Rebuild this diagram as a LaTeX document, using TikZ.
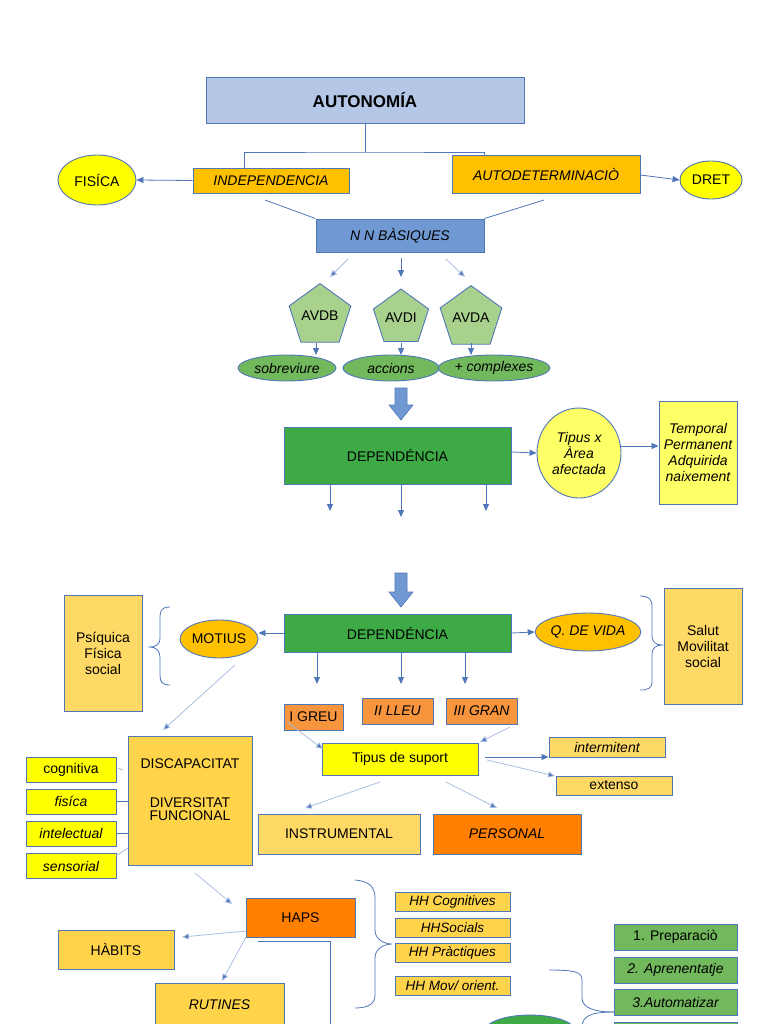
\documentclass[tikz,border=0pt]{standalone}
\usepackage{fontspec}
\setmainfont{Liberation Sans}
\usetikzlibrary{shapes.geometric,arrows.meta}
\definecolor{ln}{HTML}{4F77B8}
\definecolor{lnl}{HTML}{A9BEE0}
\definecolor{gold}{HTML}{FFC000}
\definecolor{lgold}{HTML}{FFD34A}
\definecolor{pgold}{HTML}{FFD966}
\definecolor{yel}{HTML}{FFFF00}
\definecolor{lyel}{HTML}{FFFF66}
\definecolor{sblue}{HTML}{B4C7E7}
\definecolor{mblue}{HTML}{7099D3}
\definecolor{lgreen}{HTML}{A9D18E}
\definecolor{mgreen}{HTML}{72B85C}
\definecolor{dgreen}{HTML}{3DAA46}
\definecolor{orng}{HTML}{FF7F00}
\definecolor{lorng}{HTML}{F7943E}
\begin{document}
\begin{tikzpicture}[x=1pt,y=-1pt,
  every node/.style={font=\fontsize{14}{16}\selectfont, align=center, inner sep=1pt},
  bx/.style={draw=ln, line width=0.9pt, rectangle},
  el/.style={draw=ln, line width=0.9pt, ellipse, inner sep=0pt},
  ar/.style={draw=ln, line width=0.8pt, -{Triangle[length=7pt,width=6pt]}},
  arl/.style={draw=lnl, line width=0.8pt, -{Triangle[length=7pt,width=6pt,fill=ln]}},
  li/.style={draw=ln, line width=0.8pt},
  lil/.style={draw=lnl, line width=0.8pt},
  pent/.style={draw=ln, line width=0.9pt, regular polygon, regular polygon sides=5, minimum size=62pt, fill=lgreen, inner sep=0pt},
  blk/.style={draw=ln, fill=mblue, line width=0.6pt},
  it/.style={font=\fontsize{14}{16}\selectfont\itshape},
  hh/.style={bx, fill=lgold, minimum width=115pt, minimum height=19pt, font=\fontsize{13.5}{15}\selectfont\itshape, inner sep=0pt}
]
\useasboundingbox (0,0) rectangle (768,1024);
% top
\node[bx, fill=sblue, minimum width=318pt, minimum height=46pt, font=\fontsize{17}{19}\selectfont\bfseries] (auto) at (365,100) {AUTONOMÍA};
\node[bx, fill=gold, minimum width=156pt, minimum height=25pt, it] (ind) at (271,180.5) {INDEPENDENCIA};
\node[bx, fill=gold, minimum width=188pt, minimum height=38pt, it] (adet) at (546,174) {AUTODETERMINACIÒ};
\node[el, fill=yel, minimum width=78pt, minimum height=50pt] (fis) at (97,180) {FISÍCA};
\node[el, fill=yel, minimum width=62pt, minimum height=38pt] (dret) at (711,180) {DRET};
\draw[li] (auto.south) -- (365,152) coordinate (j1);
\draw[li] (244,168) |- (j1) -| (adet.north -| 484,0);
\draw[ar] (ind.west) -- (fis.east);
\draw[ar] (adet.east |- 0,175) -- (dret.west);
\node[bx, fill=mblue, minimum width=168pt, minimum height=33pt, it] (nn) at (400,235.5) {N N BÀSIQUES};
\draw[li] (265,200) -- (nn.north west);
\draw[li] (544,200) -- (nn.north east);
\node[pent] (p1) at (320,316) {AVDB};
\node[pent, minimum size=58pt] (p2) at (401,318) {AVDI};
\node[pent, minimum size=58pt] (p3) at (471,318) {AVDA};
\coordinate (n1) at (348,259); \coordinate (n3) at (446,259);
\draw[arl] (n1) -- (330,277);
\draw[ar] (401,258) -- (401,277);
\draw[arl] (n3) -- (465,277);
\node[el, fill=mgreen, minimum width=98pt, minimum height=26pt, it] (e1) at (287,368) {sobreviure};
\node[el, fill=mgreen, minimum width=96pt, minimum height=26pt, it] (e2) at (391,368) {accions};
\node[el, fill=mgreen, minimum width=96pt, minimum height=26pt, it] (e3) at (494,368) {+ complexes};
\draw[ar] (316,343) -- (316,355);
\draw[ar] (401,343) -- (401,355);
\draw[ar] (471,343) -- (471,355);
% block arrow 1
\draw[blk] (395,388) -- (407,388) -- (407,405) -- (413,405) -- (401,420) -- (389,405) -- (395,405) -- cycle;
\node[bx, fill=dgreen, minimum width=227pt, minimum height=57pt] (dep1) at (397.5,455.5) {DEPENDÉNCIA};
\node[el, fill=lyel, minimum width=84pt, minimum height=90pt, it] (tip) at (579,453) {Tipus x\\Àrea\\afectada};
\node[bx, fill=lyel, minimum width=78pt, minimum height=103pt, it, inner sep=0pt] (temp) at (698,452.5) {Temporal\\Permanent\\Adquirida\\naixement};
\draw[ar] (dep1.east |- 0,452) -- (tip.west);
\draw[ar] (tip.east |- 0,446) -- (temp.west |- 0,446);
\draw[ar] (330,484) -- (330,511);
\draw[ar] (401,484) -- (401,517);
\draw[ar] (486,484) -- (486,511);
% block arrow 2
\draw[blk] (395,573) -- (407,573) -- (407,592) -- (413,592) -- (401,607) -- (389,592) -- (395,592) -- cycle;
\node[bx, fill=dgreen, minimum width=227pt, minimum height=38pt] (dep2) at (397.5,633) {DEPENDÉNCIA};
\node[el, fill=gold, minimum width=78pt, minimum height=38pt] (mot) at (219,639) {MOTIUS};
\node[el, fill=gold, minimum width=104pt, minimum height=38pt, it] (qv) at (588,632) {Q. DE VIDA};
\draw[ar] (dep2.west) -- (mot.east |- 0,633);
\draw[ar] (dep2.east) -- (qv.west);
\node[bx, fill=pgold, minimum width=78pt, minimum height=116pt] (psi) at (103,653) {Psíquica\\Física\\social};
\node[bx, fill=pgold, minimum width=78pt, minimum height=116pt] (sal) at (703,646) {Salut\\Movilitat\\social};
\draw[li] (170,607) .. controls (160,607) and (160,612) .. (160,620) -- (160,638) .. controls (160,645) and (155,647) .. (150,647) .. controls (155,647) and (160,650) .. (160,657) -- (160,675) .. controls (160,682) and (162,685) .. (170,685);
\draw[li] (640,596) .. controls (648,596) and (652,599) .. (652,606) -- (652,636) .. controls (652,642) and (656,645) .. (662,645) .. controls (656,645) and (652,648) .. (652,654) -- (652,682) .. controls (652,688) and (648,690) .. (640,690);
\draw[ar] (317,652) -- (317,684);
\draw[ar] (401,652) -- (401,684);
\draw[ar] (465,652) -- (465,684);
\node[bx, fill=lorng, minimum width=59pt, minimum height=26pt] (g1) at (313.5,717) {I GREU};
\node[bx, fill=lorng, minimum width=71pt, minimum height=26pt, it] (g2) at (397.5,711) {II LLEU};
\node[bx, fill=lorng, minimum width=71pt, minimum height=26pt, it] (g3) at (481.5,711) {III GRAN};
\node[bx, fill=yel, minimum width=156pt, minimum height=32pt] (ts) at (400,759) {Tipus de suport};
\node[bx, fill=pgold, minimum width=116pt, minimum height=20pt, it] (int) at (607,747) {intermitent};
\node[bx, fill=pgold, minimum width=116pt, minimum height=19pt] (ext) at (614,785.5) {extenso};
\draw[arl] (287,722) -- (323,749);
\draw[arl] (510,727) -- (480,742);
\draw[ar] (485,757) -- (int.west |- 0,757);
\draw[arl] (487,760) -- (555,776);
\node[bx, fill=pgold, minimum width=162pt, minimum height=40pt] (ins) at (339,834) {INSTRUMENTAL};
\node[bx, fill=orng, minimum width=148pt, minimum height=40pt, it] (per) at (507,834) {PERSONAL};
\draw[arl] (380,782) -- (305,808);
\draw[arl] (446,782) -- (497,808);
% discapacitat
\node[bx, fill=lgold, minimum width=124pt, minimum height=129pt, anchor=north] (dis) at (190,736) {};
\node at (190,764) {DISCAPACITAT};
\node at (190,809) {DIVERSITAT\\[-3pt]FUNCIONAL};
\draw[arl] (235,665) -- (163,730);
\node[bx, fill=yel, minimum width=90pt, minimum height=25pt] (c1) at (71,769.5) {cognitiva};
\node[bx, fill=yel, minimum width=90pt, minimum height=25pt, it] (c2) at (71,801.5) {fisíca};
\node[bx, fill=yel, minimum width=90pt, minimum height=25pt, it] (c3) at (71,833.5) {intelectual};
\node[bx, fill=yel, minimum width=90pt, minimum height=25pt, it] (c4) at (71,866) {sensorial};
\draw[lil] (118,768) -- (123,770);
\draw[li] (c2.east) -- (dis.west |- c2.east);
\draw[li] (c3.east) -- (dis.west |- c3.east);
\draw[lil] (116,856) -- (128,848);
% haps
\node[bx, fill=orng, minimum width=109pt, minimum height=39pt] (haps) at (300.5,917.5) {HAPS};
\node[bx, fill=lgold, minimum width=116pt, minimum height=39pt] (hab) at (116,949.5) {HÀBITS};
\node[bx, fill=lgold, minimum width=129pt, minimum height=48pt, it, anchor=north] (rut) at (219.5,983) {};
\node[it] at (219.5,1005) {RUTINES};
\draw[arl] (195,873) -- (232,904);
\draw[arl] (246,931) -- (182,937);
\draw[arl] (246,937) -- (222,981);
\draw[li] (258,941) -- (330,941) -- (330,1026);
\draw[li] (355,880) .. controls (368,881) and (375,886) .. (375,898) -- (375,930) .. controls (375,940) and (385,944) .. (392,944) .. controls (385,944) and (375,948) .. (375,958) -- (375,995) .. controls (375,1004) and (368,1008) .. (355,1008);
\node[hh] (h1) at (452.5,901.5) {HH Cognitives};
\node[hh] (h2) at (452.5,927.5) {HHSocials};
\node[hh] (h3) at (452.5,953) {HH Pràctiques};
\node[hh] (h4) at (452.5,985.5) {HH Mov/ orient.};
% right bottom
\draw[li] (549,970) .. controls (575,970) and (582,972) .. (582,980) -- (582,998) .. controls (582,1008) and (595,1012) .. (614,1012);
\draw[li] (614,1012) .. controls (590,1012) and (582,1016) .. (582,1028);
\node[draw=ln, line width=0.9pt, fill=dgreen, ellipse, minimum width=92pt, minimum height=34pt] (gel) at (530,1032) {};
\node[bx, fill=mgreen, minimum width=123pt, minimum height=26pt] (s1) at (675.5,937) {1. Preparaciò};
\node[bx, fill=mgreen, minimum width=123pt, minimum height=26pt, it] (s2) at (675.5,970) {2. Aprenentatje};
\node[bx, fill=mgreen, minimum width=123pt, minimum height=26pt, it] (s3) at (675.5,1002.5) {3.Automatizar};
\node[bx, fill=mgreen, minimum width=123pt, minimum height=26pt, anchor=north] (s4) at (675.5,1022) {};
\end{tikzpicture}
\end{document}
